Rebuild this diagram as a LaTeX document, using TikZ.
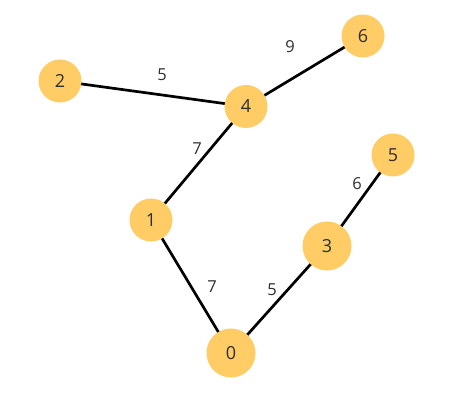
\documentclass[tikz,border=0pt]{standalone}
\usepackage{fontspec}
\setmainfont{Open Sans}
\begin{document}
\begin{tikzpicture}[x=1pt,y=-1pt,
  vert/.style={circle,fill=vfill,draw=none,inner sep=0pt,text=vtext,font=\fontsize{18}{18}\selectfont},
  small/.style={vert,minimum size=43pt},
  big/.style={vert,minimum size=49pt},
  edge/.style={line width=2.7pt,black},
  lbl/.style={text=vtext,font=\fontsize{16.5}{16.5}\selectfont,inner sep=0pt}]
\definecolor{vfill}{HTML}{FFCC66}
\definecolor{vtext}{HTML}{2E2E2E}
\useasboundingbox (0,0) rectangle (474,411);
\coordinate (c2) at (60,81);
\coordinate (c4) at (246,106.5);
\coordinate (c6) at (363,36);
\coordinate (c5) at (393,155);
\coordinate (c1) at (151,220);
\coordinate (c3) at (327,246);
\coordinate (c0) at (231,353);
\draw[edge] (c2) -- (c4);
\draw[edge] (c4) -- (c6);
\draw[edge] (c4) -- (c1);
\draw[edge] (c1) -- (c0);
\draw[edge] (c0) -- (c3);
\draw[edge] (c3) -- (c5);
\node[small] (n2) at (c2) {2};
\node[small] (n4) at (c4) {4};
\node[small] (n6) at (c6) {6};
\node[small] (n5) at (c5) {5};
\node[small] (n1) at (c1) {1};
\node[big] (n3) at (c3) {3};
\node[big] (n0) at (c0) {0};
\node[lbl] (l24) at (162,75) {5};
\node[lbl] (l46) at (290,47) {9};
\node[lbl] (l41) at (197,149) {7};
\node[lbl] (l35) at (357,184) {6};
\node[lbl] (l10) at (212,287) {7};
\node[lbl] (l03) at (272,290) {5};
\end{tikzpicture}
\end{document}
